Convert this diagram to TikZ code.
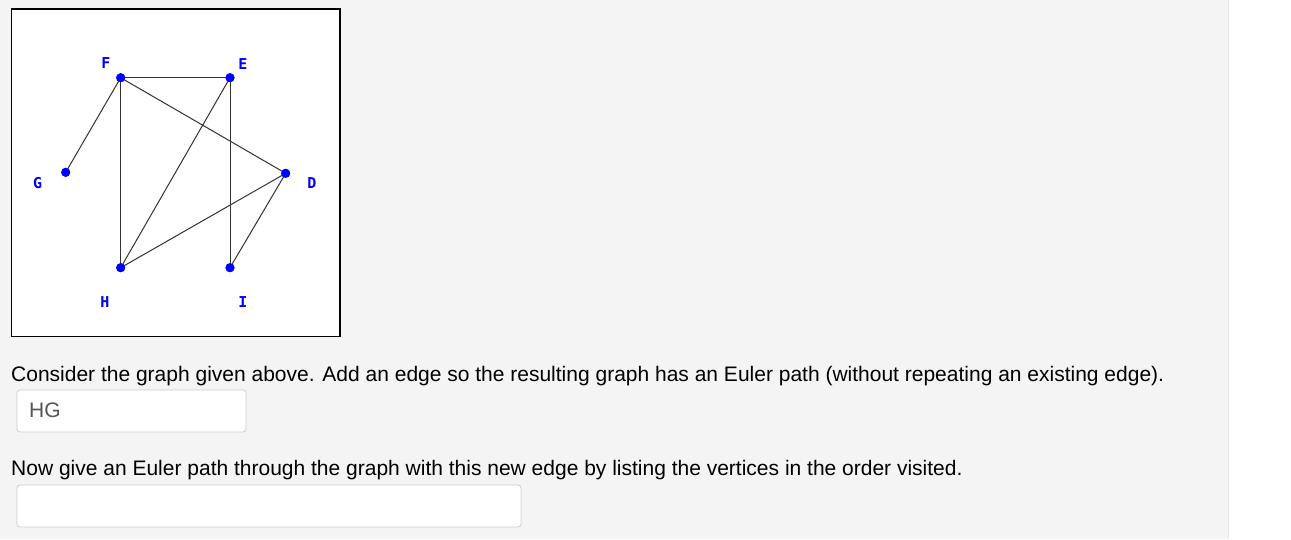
\documentclass[tikz,border=0pt]{standalone}
\usepackage{fontspec}
\setmainfont{Liberation Sans}
\newfontfamily\lblfont{DejaVu Sans Mono}
\definecolor{pagebg}{HTML}{F4F4F4}
\definecolor{sepline}{HTML}{E6E6E6}
\definecolor{vblue}{HTML}{0000FF}
\definecolor{edgegray}{HTML}{333333}
\definecolor{boxborder}{HTML}{CCCCCC}
\definecolor{inputtext}{HTML}{555555}
\tikzset{
  vertex/.style={circle,fill=vblue,inner sep=0pt,minimum size=9pt},
  vlabel/.style={text=vblue,font=\lblfont\bfseries\fontsize{15}{15}\selectfont,inner sep=0pt},
  edge/.style={draw=edgegray,line width=1pt},
  question/.style={anchor=base west,inner sep=0pt,font=\fontsize{21}{24}\selectfont,text=black},
  inputbox/.style={draw=boxborder,fill=white,rounded corners=3pt,line width=0.8pt},
}
\begin{document}
\begin{tikzpicture}[x=1pt,y=-1pt]
\useasboundingbox (0,0) rectangle (1291,539);
\fill[white] (0,0) rectangle (1291,539);
\fill[pagebg] (0,0) rectangle (1228,539);
\draw[sepline,line width=1pt] (1228.5,0) -- (1228.5,539);
% graph box
\draw[black,fill=white,line width=1.2pt] (11.7,9) rectangle (340,336.5);
\node[vertex] (F) at (120.7,77.7) {};
\node[vertex] (E) at (230,77.7) {};
\node[vertex] (G) at (65.7,172.3) {};
\node[vertex] (D) at (285.7,173.3) {};
\node[vertex] (H) at (120.7,267.7) {};
\node[vertex] (I) at (230,267.7) {};
\node[vlabel] (lF) at (106,63) {F};
\node[vlabel] (lE) at (243,64) {E};
\node[vlabel] (lG) at (37.7,182.7) {G};
\node[vlabel] (lD) at (312,183.5) {D};
\node[vlabel] (lH) at (105,302.5) {H};
\node[vlabel] (lI) at (243,302.5) {I};
\draw[edge] (F.center) -- (E.center);
\draw[edge] (F.center) -- (G.center);
\draw[edge] (F.center) -- (H.center);
\draw[edge] (F.center) -- (D.center);
\draw[edge] (E.center) -- (H.center);
\draw[edge] (E.center) -- (I.center);
\draw[edge] (D.center) -- (H.center);
\draw[edge] (D.center) -- (I.center);
\foreach \v in {F,E,G,D,H,I} \node[vertex] at (\v) {};
% question text
\node[question] (q1) at (11,381) {Consider the graph given above. Add an edge so the resulting graph has an Euler path (without repeating an existing edge).};
\draw[inputbox] (17,390) rectangle (246,432);
\node[question,text=inputtext] (a1) at (29,417.7) {HG};
\node[question] (q2) at (11,475.7) {Now give an Euler path through the graph with this new edge by listing the vertices in the order visited.};
\draw[inputbox] (17,485) rectangle (521,527);
\end{tikzpicture}
\end{document}
